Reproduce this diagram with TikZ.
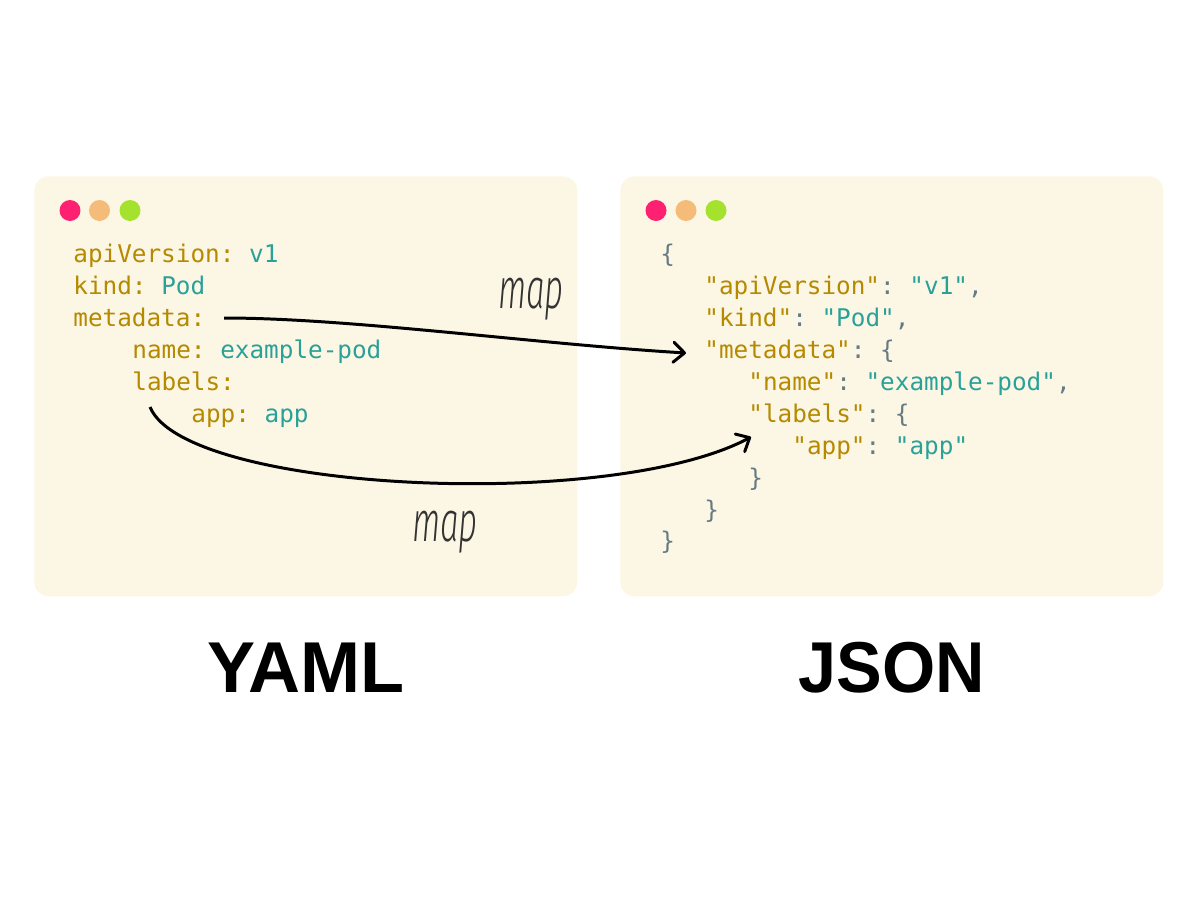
\documentclass[tikz,border=0pt]{standalone}
\usepackage{fontspec}
\usetikzlibrary{arrows.meta}
\newfontfamily\codefont{DejaVu Sans Mono}
\newfontfamily\titlefont{Liberation Sans}
\newfontfamily\handfont{Fira Sans Light}
\definecolor{panelbg}{HTML}{FCF6E4}
\definecolor{keycol}{HTML}{B58900}
\definecolor{valcol}{HTML}{2AA198}
\definecolor{bracecol}{HTML}{657B83}
\definecolor{btnpink}{HTML}{FF2171}
\definecolor{btntan}{HTML}{F4BC78}
\definecolor{btnlime}{HTML}{A4E22E}
\newcommand{\ky}[1]{\textcolor{keycol}{#1}}
\newcommand{\vl}[1]{\textcolor{valcol}{#1}}
\newcommand{\br}[1]{\textcolor{bracecol}{#1}}
\tikzset{
    panel/.style={fill=panelbg,rounded corners=0.28cm,minimum width=10.86cm,minimum height=8.4cm,anchor=north west,inner sep=0},
    winbtn/.style={circle,minimum size=0.42cm,inner sep=0},
    codeline/.style={anchor=base west,inner sep=0,font=\codefont\frenchspacing\fontsize{13.85}{16}\selectfont},
    titlelabel/.style={anchor=base,inner sep=0,font=\titlefont\bfseries\fontsize{41}{48}\selectfont},
    maplabel/.style={anchor=base,inner sep=0,text=black!80,font=\handfont\itshape\fontsize{27}{30}\selectfont},
    maparrow/.style={line width=1.7pt,-{Straight Barb[round,length=2.2mm,width=4mm,line width=1.7pt]}}
}
\begin{document}
\begin{tikzpicture}[x=0.02cm,y=-0.02cm]
    \useasboundingbox (0,0) rectangle (1200,900);
    %% Panels
    \node[panel] (yamlpanel) at (34,176) {};
    \node[panel] (jsonpanel) at (620,176) {};
    %% Window buttons
    \node[winbtn,fill=btnpink] (ydot1) at (70,210.5) {};
    \node[winbtn,fill=btntan] (ydot2) at (99.5,210.5) {};
    \node[winbtn,fill=btnlime] (ydot3) at (130,210.5) {};
    \node[winbtn,fill=btnpink] (jdot1) at (656,210.5) {};
    \node[winbtn,fill=btntan] (jdot2) at (686,210.5) {};
    \node[winbtn,fill=btnlime] (jdot3) at (716,210.5) {};
    %% YAML
    \node[codeline] (yapi) at (73,262) {\ky{apiVersion:} \vl{v1}};
    \node[codeline] (ykind) at (73,294) {\ky{kind:} \vl{Pod}};
    \node[codeline] (ymeta) at (73,326) {\ky{metadata:}};
    \node[codeline] (yname) at (132,358) {\ky{name:} \vl{example-pod}};
    \node[codeline] (ylabels) at (132,390) {\ky{labels:}};
    \node[codeline] (yapp) at (191,422) {\ky{app:} \vl{app}};
    %% JSON
    \node[codeline] (jopen) at (660,262) {\br{\{}};
    \node[codeline] (japi) at (704,294) {\ky{"apiVersion"}\br{:} \vl{"v1"}\br{,}};
    \node[codeline] (jkind) at (704,326) {\ky{"kind"}\br{:} \vl{"Pod"}\br{,}};
    \node[codeline] (jmeta) at (704,358) {\ky{"metadata"}\br{: \{}};
    \node[codeline] (jname) at (748,390) {\ky{"name"}\br{:} \vl{"example-pod"}\br{,}};
    \node[codeline] (jlabels) at (748,422) {\ky{"labels"}\br{: \{}};
    \node[codeline] (japp) at (792,454) {\ky{"app"}\br{:} \vl{"app"}};
    \node[codeline] (jclosea) at (748,486) {\br{\}}};
    \node[codeline] (jcloseb) at (704,518) {\br{\}}};
    \node[codeline] (jclosec) at (660,549) {\br{\}}};
    %% Titles
    \node[titlelabel] (yamltitle) at (306,692) {YAML};
    \node[titlelabel] (jsontitle) at (892,692) {\scalebox{0.95}[1]{JSON}};
    %% Map labels
    \node[maplabel] (mapa) at (531,308) {\scalebox{0.7}[1.2]{map}};
    \node[maplabel] (mapb) at (445,541) {\scalebox{0.7}[1.2]{map}};
    %% Arrows
    \coordinate (ymetaend) at (224,318);
    \coordinate (jmetaend) at (686,353);
    \coordinate (ylabelsend) at (150,407);
    \coordinate (jappend) at (751,437);
    \draw[maparrow] (ymetaend) .. controls (350,318) and (536,344) .. (jmetaend);
    \draw[maparrow] (ylabelsend) .. controls (185,492) and (610,512) .. (jappend);
\end{tikzpicture}
\end{document}
